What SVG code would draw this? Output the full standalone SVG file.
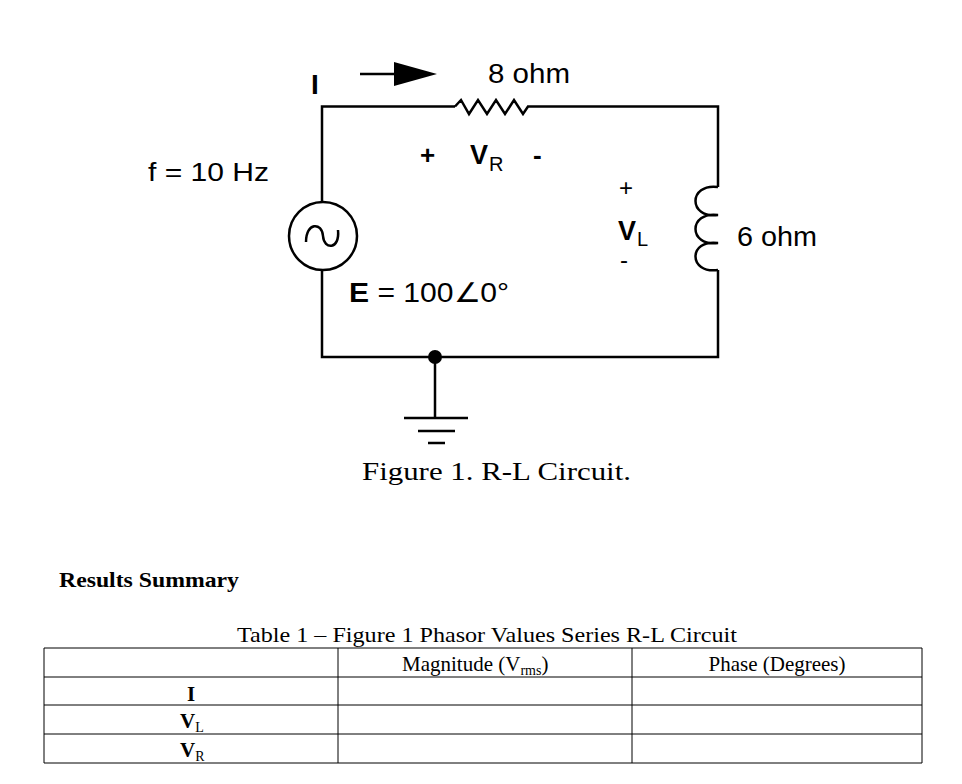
<svg xmlns="http://www.w3.org/2000/svg" width="962" height="784" viewBox="0 0 962 784">
<style>
.w{fill:none;stroke:#000;stroke-width:2.5}
.s{font-family:"Liberation Sans",Arial,sans-serif;fill:#000}
.t{font-family:"Liberation Serif","Times New Roman",serif;fill:#000}
.g{stroke:#000;stroke-width:1;fill:none}
</style>
<rect width="962" height="784" fill="#fff"/>
<g id="connectors">
<path class="w" d="M455,106.5 H322 V202 M322,270 V357 H718 V270 M718,187 V106.5 H533"/>
<path class="w" d="M435,357 V418 M404,418 H468 M418,431 H455 M428,443 H445"/>
<path class="w" d="M360,74 H398" stroke-width="2"/>
<polygon points="394,62 437,74 394,86" fill="#000"/>
</g>
<g id="resistor"><path class="w" d="M455,106.5 L461,100 L469,114 L478,100 L487,114 L496,100 L505,114 L514,100 L523,114 L528,106.5 L533,106.5"/></g>
<g id="source"><circle class="w" cx="323" cy="236" r="34"/><path class="w" d="M306,242 C306,222 322,222 323,236 C324,250 340,250 338,230"/></g>
<g id="inductor"><path class="w" d="M718,187 C688,183 688,219 718,215 C688,211 688,247 718,243 C688,239 688,274 718,270"/></g>
<g id="node"><circle cx="435" cy="357" r="7" fill="#000"/></g>
<g id="labels">
<text class="s" x="311" y="94" font-size="28" font-weight="bold">I</text>
<text class="s" x="488" y="83" font-size="27" textLength="82" lengthAdjust="spacingAndGlyphs">8 ohm</text>
<text class="s" x="148" y="181" font-size="26" textLength="121" lengthAdjust="spacingAndGlyphs">f = 10 Hz</text>
<text class="s" x="420" y="164" font-size="26" font-weight="bold">+</text>
<text class="s" x="470" y="164" font-size="27" font-weight="bold">V</text>
<text class="s" x="489" y="171" font-size="20">R</text>
<text class="s" x="533" y="164" font-size="26" font-weight="bold">-</text>
<text class="s" x="619" y="196" font-size="24">+</text>
<text class="s" x="618" y="240" font-size="27" font-weight="bold">V</text>
<text class="s" x="637" y="246" font-size="20">L</text>
<text class="s" x="620" y="268" font-size="24">-</text>
<text class="s" x="737" y="246" font-size="27" textLength="80" lengthAdjust="spacingAndGlyphs">6 ohm</text>
<text class="s" x="349" y="302" font-size="27" textLength="160" lengthAdjust="spacingAndGlyphs"><tspan font-weight="bold">E</tspan> = 100∠0°</text>
<text class="t" x="362" y="480" font-size="25" textLength="269" lengthAdjust="spacingAndGlyphs">Figure 1.  R-L Circuit.</text>
<text class="t" x="59" y="587" font-size="21" font-weight="bold" textLength="180" lengthAdjust="spacingAndGlyphs">Results Summary</text>
<text class="t" x="237" y="642" font-size="21" textLength="500" lengthAdjust="spacingAndGlyphs">Table 1 – Figure 1 Phasor Values Series R-L Circuit</text>
</g>
<g id="table">
<path class="g" d="M44,648 H922 V763 H44 Z M44,677 H922 M44,705 H922 M44,734 H922 M338,648 V763 M632,648 V763"/>
<text class="t" x="402" y="671" font-size="21">Magnitude (V<tspan font-size="14" dy="4">rms</tspan><tspan dy="-4">)</tspan></text>
<text class="t" x="777" y="671" font-size="21" text-anchor="middle">Phase (Degrees)</text>
<text class="t" x="191" y="701" font-size="21" font-weight="bold" text-anchor="middle">I</text>
<text class="t" x="180" y="728" font-size="21" font-weight="bold">V<tspan font-size="14" dy="4" font-weight="normal">L</tspan></text>
<text class="t" x="180" y="757" font-size="21" font-weight="bold">V<tspan font-size="14" dy="4" font-weight="normal">R</tspan></text>
</g>
</svg>
